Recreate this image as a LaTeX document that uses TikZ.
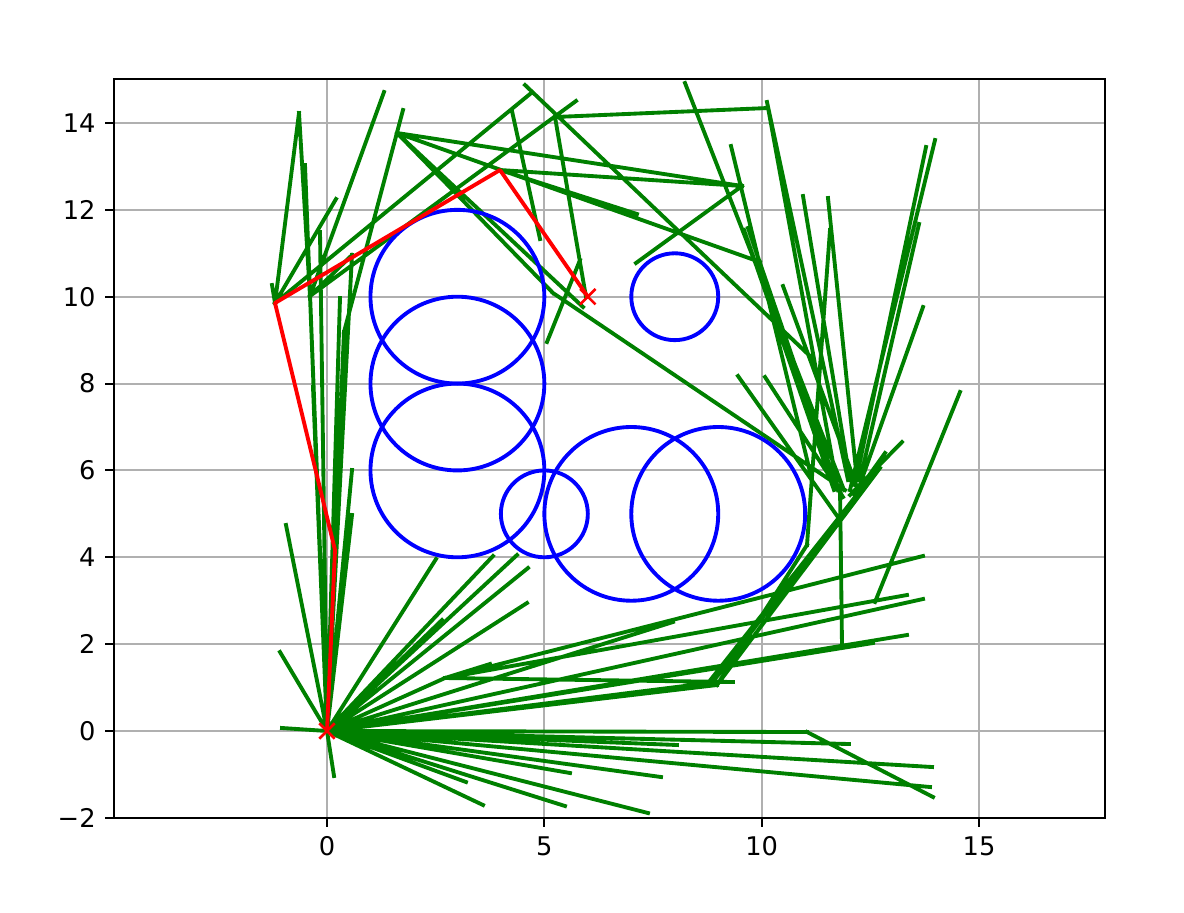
\documentclass[tikz,border=0pt]{standalone}
\usepackage{fontspec}
\setmainfont{DejaVu Sans}
\definecolor{mplgreen}{RGB}{0,128,0}
\definecolor{gridgray}{RGB}{176,176,176}
\begin{document}
\begin{tikzpicture}[x=0.5pt,y=-0.5pt,
  tree/.style={draw=mplgreen, line width=1.93pt, line cap=rect, line join=round},
  obst/.style={draw=blue, line width=1.93pt},
  gridline/.style={draw=gridgray, line width=1pt},
  redpath/.style={draw=red, line width=1.93pt, line join=round},
  marker/.style={draw=red, line width=1.3pt},
  tickmark/.style={draw=black, line width=1pt},
  ticklabel/.style={inner sep=0pt, font=\fontsize{12.85}{15}\selectfont}]
\useasboundingbox (0,0) rectangle (1184,912);
\fill[white] (0,0) rectangle (1184,912);
% data coordinate system
\begin{scope}[shift={(327,731)}, x=21.735pt, y=21.715pt]
  \foreach \v in {0,5,10,15} \draw[gridline] (\v,-2) -- (\v,15.01);
  \foreach \v in {-2,0,...,14} \draw[gridline] (-4.9,\v) -- (17.9,\v);
\end{scope}
% tree (pixel coordinates)
\coordinate (R) at (327,731);
\coordinate (A) at (275,303);
\draw[tree]
 (R)--(807,732) (807,732)--(933,797) (R)--(849,744) (R)--(932,767) (R)--(930,787)
 (R)--(677,745) (R)--(661,777) (R)--(570,773) (R)--(648,813) (R)--(565,806)
 (R)--(483,805) (R)--(466,782) (R)--(334,776) (R)--(282,728) (R)--(280,652) (R)--(286,525)
 (R)--(436,559) (R)--(493,556) (R)--(517,555) (R)--(528,568) (R)--(527,603) (R)--(442,620)
 (R)--(673,622) (R)--(445,678) (445,678)--(733,682) (445,678)--(490,664)
 (445,678)--(923,556) (445,678)--(907,595) (R)--(923,599) (R)--(907,635) (R)--(873,643)
 (R)--(708,683) (R)--(717,685)
 (708,683)--(875,472) (717,685)--(880,468) (712,683)--(868,480) (717,685)--(807,545)
 (840,487)--(842,645) (960,392)--(875,602)
 (850,490)--(935,140) (855,485)--(926,147) (860,480)--(919,224) (858,490)--(923,307)
 (850,495)--(902,442) (855,495)--(885,453)
 (767,102)--(838,490) (767,102)--(848,480) (803,196)--(850,480) (828,198)--(857,480)
 (830,230)--(807,545) (748,228)--(838,490) (744,230)--(834,490) (685,83)--(844,490)
 (731,146)--(812,480) (783,286)--(858,490) (765,377)--(843,497) (738,376)--(840,520)
 (553,293)--(845,490) (555,117)--(768,108) (525,85)--(812,358)
 (397,133)--(742,186) (500,170)--(742,186) (500,170)--(637,214) (397,133)--(760,262)
 (742,186)--(636,263) (397,133)--(553,293) (397,133)--(583,307) (555,117)--(586,297)
 (310,296)--(576,101) (512,111)--(540,239) (547,342)--(580,260) (A)--(530,94)
 (A)--(299,113) (A)--(272,285) (A)--(336,199)
 (299,113)--(310,296) (305,165)--(R) (310,296)--(R) (384,92)--(310,296) (310,296)--(352,255)
 (320,232)--(R) (340,298)--(R) (352,255)--(R) (403,110)--(344,332) (344,332)--(R)
 (313,387)--(R) (352,470)--(R) (352,515)--(R) (349,515)--(R);
% obstacles, axes
\begin{scope}[shift={(327,731)}, x=21.735pt, y=21.715pt]
  \draw[obst] (5,5) circle[radius=1];
  \draw[obst] (3,6) circle[radius=2];
  \draw[obst] (3,8) circle[radius=2];
  \draw[obst] (3,10) circle[radius=2];
  \draw[obst] (7,5) circle[radius=2];
  \draw[obst] (9,5) circle[radius=2];
  \draw[obst] (8,10) circle[radius=1];
  \coordinate (G) at (6,10);
  \draw[tickmark] (-4.9,-2) rectangle (17.9,15.01);
  \foreach \v in {0,5,10,15} {
    \draw[tickmark] (\v,-2) -- ++(0,-4.5pt);
    \node[ticklabel, anchor=north] at ([yshift=-9pt]\v,-2) {\v};
  }
  \foreach \v/\t in {-2/−2,0/0,2/2,4/4,6/6,8/8,10/10,12/12,14/14} {
    \draw[tickmark] (-4.9,\v) -- ++(-4.5pt,0);
    \node[ticklabel, anchor=east] at ([xshift=-9pt]-4.9,\v) {\t};
  }
\end{scope}
% markers and path
\draw[marker] (R) +(-3.85pt,-3.85pt) -- +(3.85pt,3.85pt) +(-3.85pt,3.85pt) -- +(3.85pt,-3.85pt);
\draw[marker] (G) +(-3.85pt,-3.85pt) -- +(3.85pt,3.85pt) +(-3.85pt,3.85pt) -- +(3.85pt,-3.85pt);
\draw[redpath] (R) -- (335,550) -- (A) -- (500,170) -- (G);
\end{tikzpicture}
\end{document}
